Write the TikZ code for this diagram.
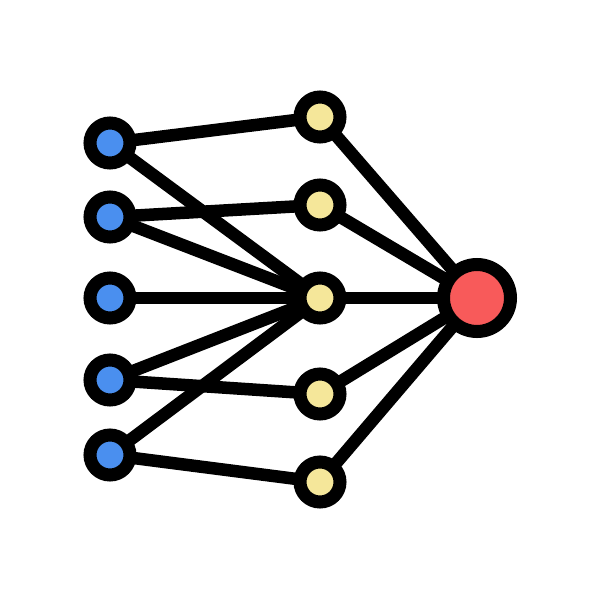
\documentclass[tikz,border=0pt]{standalone}
\usetikzlibrary{backgrounds}
\definecolor{nblue}{HTML}{4A8FEF}
\definecolor{nyellow}{HTML}{F5E79A}
\definecolor{nred}{HTML}{F85A5A}
\tikzset{
  link/.style={line width=12.5pt, black},
  bnode/.style={circle, draw=black, line width=13pt, fill=nblue, minimum size=40pt, inner sep=0pt},
  ynode/.style={circle, draw=black, line width=13pt, fill=nyellow, minimum size=40pt, inner sep=0pt},
  rnode/.style={circle, draw=black, line width=13pt, fill=nred, minimum size=67pt, inner sep=0pt}
}
\begin{document}
\begin{tikzpicture}[x=1pt,y=-1pt]
\useasboundingbox (0,0) rectangle (600,600);
\node[bnode] (l1) at (110,143) {};
\node[bnode] (l2) at (110,217) {};
\node[bnode] (l3) at (110,298) {};
\node[bnode] (l4) at (110,380) {};
\node[bnode] (l5) at (110,455) {};
\node[ynode] (m1) at (320,117) {};
\node[ynode] (m2) at (320,205) {};
\node[ynode] (m3) at (320,298) {};
\node[ynode] (m4) at (320,394) {};
\node[ynode] (m5) at (320,482) {};
\node[rnode] (r) at (477,298) {};
\begin{scope}[on background layer]
\fill[white] (0,0) rectangle (600,600);
\draw[link] (l1.center) -- (m1.center);
\draw[link] (l1.center) -- (m3.center);
\draw[link] (l2.center) -- (m2.center);
\draw[link] (l2.center) -- (m3.center);
\draw[link] (l3.center) -- (m3.center);
\draw[link] (l4.center) -- (m3.center);
\draw[link] (l4.center) -- (m4.center);
\draw[link] (l5.center) -- (m3.center);
\draw[link] (l5.center) -- (m5.center);
\foreach \m in {m1,m2,m3,m4,m5} \draw[link] (\m.center) -- (r.center);
\end{scope}
\end{tikzpicture}
\end{document}
